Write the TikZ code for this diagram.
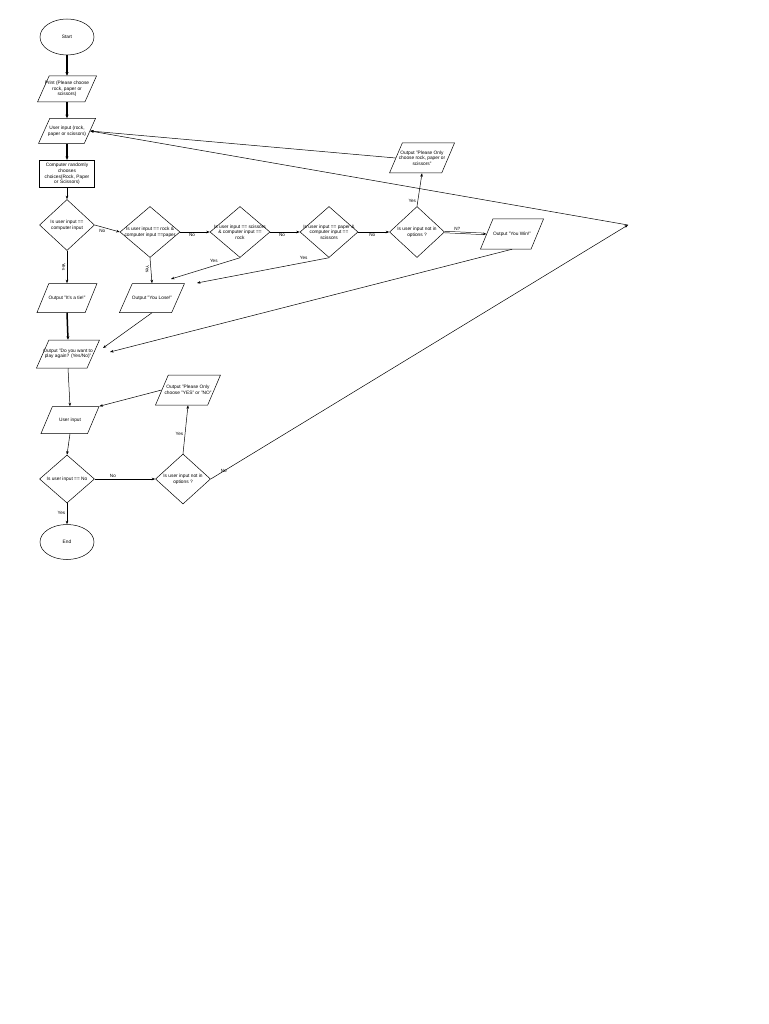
\documentclass[tikz,border=0pt]{standalone}
\usepackage{fontspec}
\setmainfont{Liberation Sans}
\usepackage{tikz}
\usetikzlibrary{shapes.geometric,arrows.meta}

\tikzset{
  base/.style={draw, line width=0.5pt, inner sep=0pt},
  term/.style={base, ellipse, minimum width=54pt, minimum height=36pt, font=\fontsize{4.8}{5.6}\selectfont},
  io/.style={base, trapezium, trapezium left angle=72, trapezium right angle=108,
    trapezium stretches=true, inner sep=2pt, minimum width=60pt, minimum height=28pt},
  proc/.style={base, rectangle, line width=1.2pt, minimum width=55pt, minimum height=27pt,
    text width=53pt, align=center, font=\fontsize{4.8}{5.6}\selectfont},
  decide/.style={base, diamond, minimum width=56pt, minimum height=51pt},
  txt/.style={inner sep=0pt, align=center, font=\fontsize{4.8}{5.6}\selectfont},
  lbl/.style={inner sep=1.5pt, font=\fontsize{4.6}{5.4}\selectfont},
  flow/.style={-{Stealth[length=3.5pt,width=2.6pt]}, line width=0.5pt},
  bold/.style={-{Stealth[length=3.5pt,width=3pt]}, line width=1.5pt}
}

\begin{document}
\begin{tikzpicture}[x=1pt, y=-1pt]
  \fill[white] (0,0) rectangle (768,1024);
  \useasboundingbox (0,0) rectangle (768,1024);

  % main column
  \node[term] (start) at (67,37) {Start};
  \node[io, minimum width=59pt, minimum height=26pt,
    label={[txt]center:Print (Please choose\\rock, paper or\\scissors)}] (print) at (67,89) {};
  \node[io, minimum width=57pt, minimum height=25pt,
    label={[txt]center:User input (rock,\\paper or scissors)}] (ui) at (67,131) {};
  \node[proc] (comp) at (67,174) {Computer randomly\\chooses\\choices(Rock, Paper\\or Scissors)};
  \node[decide, minimum width=55pt,
    label={[txt]center:Is user input ==\\computer input}] (d1) at (67,225) {};
  \node[io, minimum width=60pt, minimum height=29pt,
    label={[txt]center:Output "It's a tie!"}] (tie) at (67,298) {};

  % row of checks
  \node[decide, minimum width=60pt,
    label={[txt]center:Is user input == rock \&\\computer input ==paper}] (d2) at (150,232) {};
  \node[io, minimum width=65pt, minimum height=29pt,
    label={[txt]center:Output "You Lose!"}] (lose) at (152,298) {};
  \node[decide, minimum width=60pt,
    label={[txt]center:Is user input == scissors\\\& computer input ==\\rock}] (d3) at (240,232) {};
  \node[decide, minimum width=58pt,
    label={[txt]center:Is user input == paper \&\\computer input ==\\scissors}] (d4) at (329,232) {};
  \node[decide, minimum width=55pt,
    label={[txt]center:Is user input not in\\options ?}] (d5) at (417,232) {};
  \node[io, minimum width=65pt, minimum height=30pt,
    label={[txt]center:Output "Please Only\\choose rock, paper or\\scissors"}] (ponly) at (422,158) {};
  \node[io, minimum width=63pt, minimum height=30pt,
    label={[txt]center:Output "You Win!"}] (win) at (512,234) {};

  % play again
  \node[io, minimum width=63pt, minimum height=28pt,
    label={[txt]center:Output "Do you want to\\play again? (Yes/No)"}] (again) at (68,354) {};
  \node[io, minimum width=58pt, minimum height=27pt,
    label={[txt]center:User input}] (ui2) at (70,420) {};
  \node[io, minimum width=65pt, minimum height=30pt,
    label={[txt]center:Output "Please Only\\choose "YES" or "NO"}] (pyes) at (188,390) {};
  \node[decide, minimum width=55pt, minimum height=48pt,
    label={[txt]center:Is user input == No}] (d6) at (67,479) {};
  \node[decide, minimum width=55pt, minimum height=50pt,
    label={[txt]center:Is user input not in\\options ?}] (d7) at (183,479) {};
  \node[term, minimum height=35pt] (end) at (67,542) {End};

  \coordinate (turn) at (628,225);
  \coordinate (loseA) at (171,279);
  \coordinate (loseB) at (197,283);
  \coordinate (againA) at (103,348);
  \coordinate (againB) at (110,352);

  \draw[bold] (start) -- (print);
  \draw[bold] (print) -- (ui);
  \draw[bold] (ui) -- (comp);
  \draw[flow] (comp) -- (d1);
  \draw[flow] (d1.south) -- node[lbl, rotate=-90, anchor=north, pos=0.5] {Yes} (tie.north);
  \draw[bold] (tie.south) -- (again.north);

  \draw[flow] (d1.east) -- node[lbl, below, pos=0.3] {No} (d2.west);
  \draw[flow] (d2.east) -- node[lbl, below, pos=0.4] {No} (d3.west);
  \draw[flow] (d3.east) -- node[lbl, below, pos=0.4] {No} (d4.west);
  \draw[flow] (d4.east) -- node[lbl, below, pos=0.45] {No} (d5.west);
  \draw[flow] (d2.south) -- node[lbl, rotate=-90, anchor=north, pos=0.45] {Yes} (lose.north);
  \draw[flow] (d3.south) -- node[lbl, above left, pos=0.3] {Yes} (loseA);
  \draw[flow] (d4.south) -- node[lbl, above left, pos=0.15] {Yes} (loseB);
  \draw[flow] (d5.north) -- node[lbl, left, pos=0.15] {Yes} (ponly.south);
  \draw[flow] (ponly.west) -- (ui.east);
  \draw[flow, double, double distance=1pt] (d5.east) -- node[lbl, above, pos=0.3] {N?} (win.west);

  \draw[flow] (lose.south) -- (againA);
  \draw[flow] (win.south) -- (againB);

  \draw[flow] (again.south) -- (ui2.north);
  \draw[flow] (ui2.south) -- (d6.north);
  \draw[flow] (d6.east) -- node[lbl, above, pos=0.3] {No} (d7.west);
  \draw[flow] (d6.south) -- node[lbl, left, pos=0.45] {Yes} (end.north);
  \draw[flow] (d7.north) -- node[lbl, left, pos=0.4] {Yes} (pyes.south);
  \draw[flow] (pyes.west) -- (ui2.top right corner);
  \draw[flow] (d7.east) -- node[lbl, above, pos=0.02, anchor=south west] {No} (turn);
  \draw[flow] (turn) -- (ui.east);
\end{tikzpicture}
\end{document}
